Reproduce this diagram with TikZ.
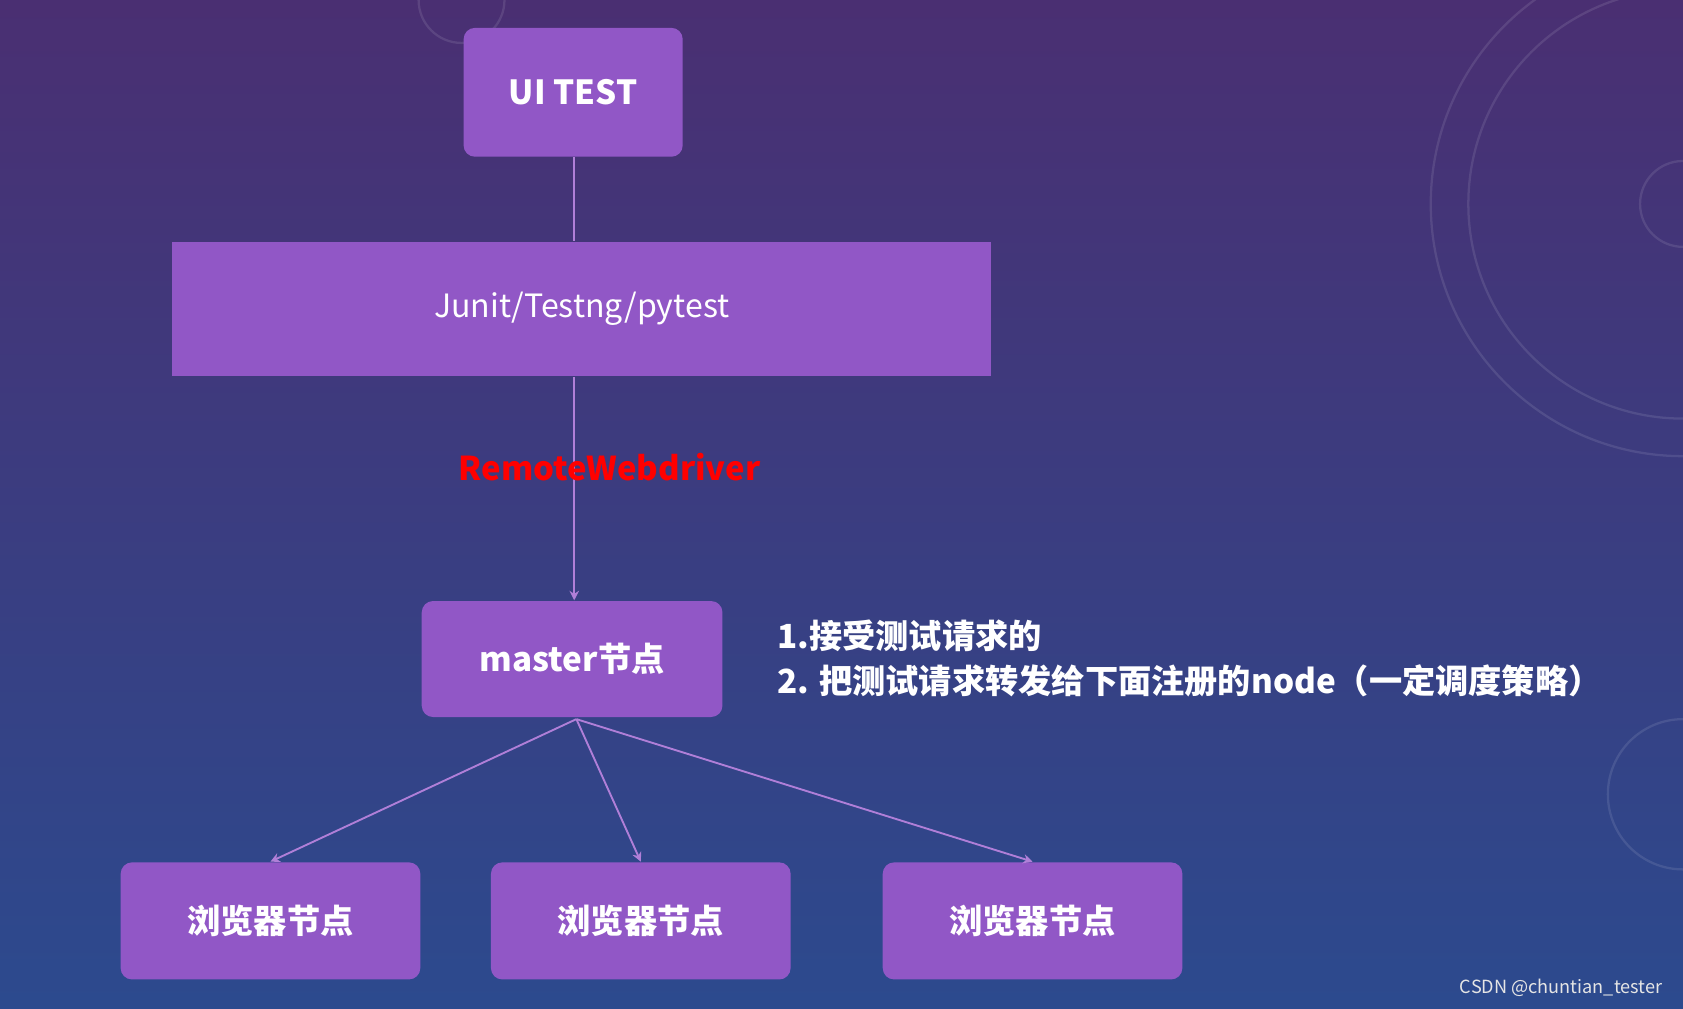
\documentclass[tikz,border=0pt]{standalone}
\usepackage{fontspec}
\setmainfont{Noto Sans CJK SC}
\usetikzlibrary{arrows.meta}
\definecolor{bgtop}{HTML}{4A2F72}
\definecolor{bgbot}{HTML}{2C4A8E}
\definecolor{boxc}{HTML}{9157C6}
\definecolor{linec}{HTML}{B07FD8}
\tikzset{
  box/.style={fill=boxc, draw=none, rounded corners=3pt, text=white, inner sep=1pt, font=\fontsize{8.8}{10}\selectfont\bfseries},
  sq/.style={fill=boxc, draw=none, text=white, inner sep=1pt, font=\fontsize{8.5}{10}\selectfont},
  conn/.style={draw=linec, line width=0.5pt},
  arr/.style={conn, -{Stealth[length=2.5pt,width=2.5pt]}},
  deco/.style={draw=white, opacity=0.10, line width=0.6pt}
}
\begin{document}
\begin{tikzpicture}[x=0.01cm,y=-0.01cm]
\shade[top color=bgtop, bottom color=bgbot] (0,0) rectangle (1568,940);
\useasboundingbox (0,0) rectangle (1568,940);
% decorative arcs
\draw[deco] (1568,190) circle (235);
\draw[deco] (1568,190) circle (200);
\draw[deco] (1568,190) circle (40);
\draw[deco] (1568,740) circle (70);
\draw[deco] (430,0) circle (40);
% nodes
\node[box, minimum width=2.04cm, minimum height=1.2cm] (ui) at (534,86) {UI TEST};
\node[sq, minimum width=7.63cm, minimum height=1.25cm] (junit) at (542,288) {Junit/Testng/pytest};
\node[box, minimum width=2.8cm, minimum height=1.08cm] (master) at (533,614) {master节点};
\node[box, minimum width=2.79cm, minimum height=1.09cm] (b1) at (252,858) {浏览器节点};
\node[box, minimum width=2.79cm, minimum height=1.09cm] (b2) at (597,858) {浏览器节点};
\node[box, minimum width=2.79cm, minimum height=1.09cm] (b3) at (962,858) {浏览器节点};
\coordinate (mb) at (537,670);
% connectors
\draw[conn] (ui.south -| 535,0) -- (junit.north -| 535,0);
\draw[arr] (junit.south -| 535,0) -- (master.north -| 535,0);
\draw[arr] (mb) -- (b1.north);
\draw[arr] (mb) -- (b2.north);
\draw[arr] (mb) -- (b3.north);
% labels
\node[text=red, inner sep=1pt, font=\fontsize{8.7}{10}\selectfont\bfseries] (rw) at (568,435) {RemoteWebdriver};
\node[anchor=west, text=white, inner sep=1pt, font=\fontsize{8.8}{10}\selectfont\bfseries] (t1) at (720,592) {1.接受测试请求的};
\node[anchor=west, text=white, inner sep=1pt, font=\fontsize{8.8}{10}\selectfont\bfseries] (t2) at (720,634) {2. 把测试请求转发给下面注册的node（一定调度策略）};
\node[anchor=east, text=white!80!gray, inner sep=1pt, font=\fontsize{4.8}{6}\selectfont] (wm) at (1553,920) {CSDN @chuntian\_tester};
\end{tikzpicture}
\end{document}
